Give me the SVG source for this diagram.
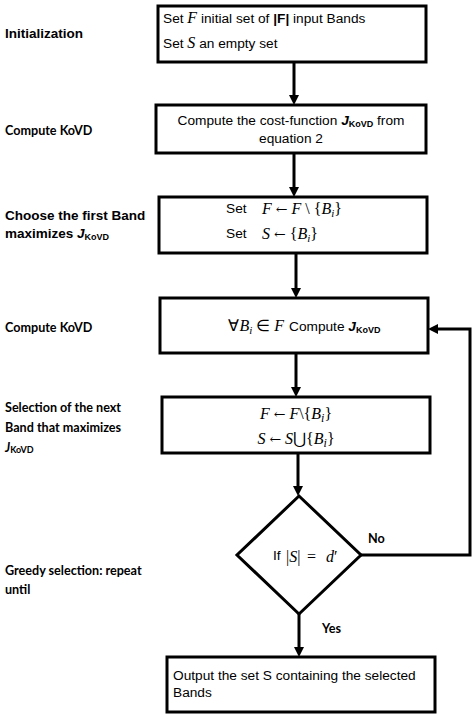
<svg xmlns="http://www.w3.org/2000/svg" width="474" height="716" viewBox="0 0 474 716">
<style>
.box{fill:#fff;stroke:#000;stroke-width:3}
.ln{fill:none;stroke:#000;stroke-width:3}
.t{font-family:"Liberation Sans",Arial,sans-serif;font-size:13.7px;fill:#000}
.lb{font-family:"Liberation Sans",Arial,sans-serif;font-size:13.5px;font-weight:bold;fill:#000}
.lc{font-family:Lato,"Open Sans",sans-serif;font-size:12.6px;font-weight:bold;fill:#000}
.m{font-family:"Liberation Serif","Times New Roman",serif;font-size:16px}
.mi{font-family:"Liberation Serif","Times New Roman",serif;font-size:16px;font-style:italic}
.ar{font-family:"DejaVu Serif",serif;font-size:14px}
.jb{font-weight:bold;font-style:italic}
.sub{font-size:9px;font-weight:bold}
</style>
<defs>
<marker id="ah" viewBox="0 0 10 10" refX="2" refY="5" markerWidth="10" markerHeight="10" markerUnits="userSpaceOnUse" orient="auto">
<path d="M0,0 L10,5 L0,10 z" fill="#000"/>
</marker>
</defs>

<g id="labels">
<text class="lb" x="5" y="38">Initialization</text>
<text class="lc" x="5" y="135">Compute KoVD</text>
<text class="lb" x="5" y="220">Choose the first Band</text>
<text class="lb" x="5" y="238">maximizes <tspan class="jb">J</tspan><tspan class="sub" dy="2">KoVD</tspan></text>
<text class="lc" x="5" y="332">Compute KoVD</text>
<text class="lc" x="5" y="412">Selection of the next</text>
<text class="lc" x="5" y="432">Band that maximizes</text>
<text class="lc" x="5" y="452"><tspan font-style="italic">J</tspan><tspan font-size="9" dy="1">KoVD</tspan></text>
<text class="lc" x="5" y="575">Greedy selection: repeat</text>
<text class="lc" x="5" y="594">until</text>
</g>

<g id="connectors">
<line class="ln" x1="294" y1="62" x2="294" y2="97" marker-end="url(#ah)"/>
<line class="ln" x1="294" y1="153" x2="294" y2="189" marker-end="url(#ah)"/>
<line class="ln" x1="296" y1="253" x2="296" y2="290" marker-end="url(#ah)"/>
<line class="ln" x1="296" y1="353" x2="296" y2="389" marker-end="url(#ah)"/>
<line class="ln" x1="298" y1="453" x2="298" y2="488" marker-end="url(#ah)"/>
<line class="ln" x1="299" y1="614" x2="299" y2="649" marker-end="url(#ah)"/>
<polyline class="ln" points="361,555 470,555 470,329 436,329" marker-end="url(#ah)"/>
<text class="lc" x="368" y="543">No</text>
<text class="lc" x="322" y="633">Yes</text>
</g>

<g id="init">
<rect class="box" x="158" y="6" width="268" height="56"/>
<text class="t" x="163" y="23">Set <tspan class="mi">F</tspan> initial set of <tspan font-weight="bold">|F|</tspan> input Bands</text>
<text class="t" x="163" y="48">Set <tspan class="mi">S</tspan> an empty set</text>
</g>

<g id="cost">
<rect class="box" x="156" y="105" width="270" height="48"/>
<text class="t" x="291" y="125" text-anchor="middle">Compute the cost-function <tspan class="jb">J</tspan><tspan class="sub" dy="2">KoVD</tspan><tspan dy="-2"> from</tspan></text>
<text class="t" x="291" y="143" text-anchor="middle">equation 2</text>
</g>

<g id="first">
<rect class="box" x="159" y="197" width="268" height="56"/>
<text class="t" x="226" y="213">Set</text>
<text class="m" x="262" y="214" font-size="17"><tspan font-style="italic">F</tspan> <tspan class="ar">←</tspan> <tspan font-style="italic">F</tspan> \ {<tspan font-style="italic">B</tspan><tspan font-style="italic" font-size="11" dy="3">i</tspan><tspan dy="-3">}</tspan></text>
<text class="t" x="226" y="238">Set</text>
<text class="m" x="262" y="239" font-size="17"><tspan font-style="italic">S</tspan> <tspan class="ar">←</tspan> {<tspan font-style="italic">B</tspan><tspan font-style="italic" font-size="11" dy="3">i</tspan><tspan dy="-3">}</tspan></text>
</g>

<g id="computeall">
<rect class="box" x="160" y="298" width="268" height="55"/>
<text class="m" x="284" y="331" font-size="17" text-anchor="end">∀<tspan font-style="italic">B</tspan><tspan font-style="italic" font-size="11" dy="3">i</tspan><tspan dy="-3"> ∈ </tspan><tspan font-style="italic">F</tspan></text>
<text class="t" x="289" y="331">Compute <tspan class="jb">J</tspan><tspan class="sub" dy="2">KoVD</tspan></text>
</g>

<g id="select">
<rect class="box" x="162" y="397" width="268" height="56"/>
<text class="m" x="296" y="419" font-size="18" text-anchor="middle"><tspan font-style="italic">F</tspan> <tspan class="ar" font-size="15">←</tspan> <tspan font-style="italic">F</tspan>\{<tspan font-style="italic">B</tspan><tspan font-style="italic" font-size="12" dy="3">i</tspan><tspan dy="-3">}</tspan></text>
<text class="m" x="296" y="444" font-size="18" text-anchor="middle"><tspan font-style="italic">S</tspan> <tspan class="ar" font-size="15">←</tspan> <tspan font-style="italic">S</tspan>⋃{<tspan font-style="italic">B</tspan><tspan font-style="italic" font-size="12" dy="3">i</tspan><tspan dy="-3">}</tspan></text>
</g>

<g id="decision">
<polygon class="box" points="299,496 361,555 299,614 237,555"/>
<text class="t" x="273" y="560" font-size="12">If</text>
<text class="m" x="286" y="562" font-size="19">|<tspan font-style="italic">S</tspan>|</text>
<text class="m" x="307" y="562" font-size="19">=</text>
<text class="m" x="326" y="562" font-size="19"><tspan font-style="italic">d</tspan>′</text>
</g>

<g id="output">
<rect class="box" x="167" y="657" width="268" height="55"/>
<text class="t" x="173" y="680">Output the set S containing the selected</text>
<text class="t" x="173" y="697">Bands</text>
</g>
</svg>
